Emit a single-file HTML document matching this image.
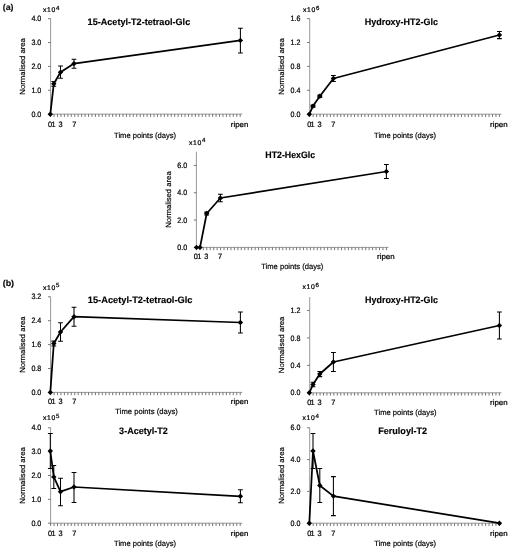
<!DOCTYPE html>
<html><head><meta charset="utf-8"><title>Figure</title>
<style>
html,body{margin:0;padding:0;background:#fff;}
svg{display:block;font-family:"Liberation Sans", Arial, sans-serif;}
text{stroke:#000;stroke-width:0.22px;}
text.b{stroke-width:0.15px;}
text.t{stroke-width:0.18px;}
</style></head>
<body>
<svg width="510" height="550" viewBox="0 0 510 550" fill="#000" text-rendering="geometricPrecision">
<rect width="510" height="550" fill="#fff"/>
<text x="2.7" y="10" font-size="8.6" class="b" font-weight="bold" fill="#111" textLength="10.8" lengthAdjust="spacingAndGlyphs">(a)</text>
<text x="2.7" y="285.9" font-size="8.6" class="b" font-weight="bold" fill="#000" textLength="11.4" lengthAdjust="spacingAndGlyphs">(b)</text>
<path d="M50.6 18.7V114.1H242.3" fill="none" stroke="#7d7d7d" stroke-width="0.8"/>
<text x="41.3" y="116.7" text-anchor="end" font-size="7.8" textLength="9.9" lengthAdjust="spacingAndGlyphs">0.0</text>
<text x="41.3" y="92.85" text-anchor="end" font-size="7.8" textLength="9.9" lengthAdjust="spacingAndGlyphs">1.0</text>
<text x="41.3" y="69" text-anchor="end" font-size="7.8" textLength="9.9" lengthAdjust="spacingAndGlyphs">2.0</text>
<text x="41.3" y="45.15" text-anchor="end" font-size="7.8" textLength="9.9" lengthAdjust="spacingAndGlyphs">3.0</text>
<text x="41.3" y="21.3" text-anchor="end" font-size="7.8" textLength="9.9" lengthAdjust="spacingAndGlyphs">4.0</text>
<path d="M48 114.1H50.6M48 90.25H50.6M48 66.4H50.6M48 42.55H50.6M48 18.7H50.6M50.6 114.1V116.9M54.05 114.1V116.9M57.49 114.1V116.9M60.94 114.1V116.9M64.39 114.1V116.9M67.84 114.1V116.9M71.28 114.1V116.9M74.73 114.1V116.9M78.18 114.1V116.9M81.63 114.1V116.9M85.07 114.1V116.9M88.52 114.1V116.9M91.97 114.1V116.9M95.41 114.1V116.9M98.86 114.1V116.9M102.31 114.1V116.9M105.76 114.1V116.9M109.2 114.1V116.9M112.65 114.1V116.9M116.1 114.1V116.9M119.55 114.1V116.9M122.99 114.1V116.9M126.44 114.1V116.9M129.89 114.1V116.9M133.33 114.1V116.9M136.78 114.1V116.9M140.23 114.1V116.9M143.68 114.1V116.9M147.12 114.1V116.9M150.57 114.1V116.9M154.02 114.1V116.9M157.47 114.1V116.9M160.91 114.1V116.9M164.36 114.1V116.9M167.81 114.1V116.9M171.25 114.1V116.9M174.7 114.1V116.9M178.15 114.1V116.9M181.6 114.1V116.9M185.04 114.1V116.9M188.49 114.1V116.9M191.94 114.1V116.9M195.39 114.1V116.9M198.83 114.1V116.9M202.28 114.1V116.9M205.73 114.1V116.9M209.17 114.1V116.9M212.62 114.1V116.9M216.07 114.1V116.9M219.52 114.1V116.9M222.96 114.1V116.9M226.41 114.1V116.9M229.86 114.1V116.9M233.31 114.1V116.9M236.75 114.1V116.9M240.2 114.1V116.9" fill="none" stroke="#666" stroke-width="0.9"/>
<text x="50.1" y="126.5" text-anchor="middle" font-size="7.8" textLength="4.1" lengthAdjust="spacingAndGlyphs">0</text>
<text x="53.55" y="126.5" text-anchor="middle" font-size="7.8" textLength="4.1" lengthAdjust="spacingAndGlyphs">1</text>
<text x="60.44" y="126.5" text-anchor="middle" font-size="7.8" textLength="4.1" lengthAdjust="spacingAndGlyphs">3</text>
<text x="74.23" y="126.5" text-anchor="middle" font-size="7.8" textLength="4.1" lengthAdjust="spacingAndGlyphs">7</text>
<text x="239.6" y="126.5" text-anchor="middle" font-size="7.5" textLength="17.6" lengthAdjust="spacingAndGlyphs">ripen</text>
<text x="145.1" y="137.6" class="t" text-anchor="middle" font-size="7.7" textLength="62" lengthAdjust="spacingAndGlyphs">Time points (days)</text>
<text transform="translate(24.8 66.4) rotate(-90)" class="t" text-anchor="middle" font-size="7.5" textLength="56.5" lengthAdjust="spacingAndGlyphs">Normalised area</text>
<text x="43" y="12.3" font-size="6.8" textLength="12.3" lengthAdjust="spacing">x10</text>
<text x="56.1" y="10" font-size="6" textLength="3.4" lengthAdjust="spacingAndGlyphs">4</text>
<text x="87.6" y="24.7" font-size="9.4" class="b" font-weight="bold" fill="#000" textLength="102.6" lengthAdjust="spacingAndGlyphs">15-Acetyl-T2-tetraol-Glc</text>
<path d="M53.8 81.5V86.2M51.4 81.5h4.8M51.4 86.2h4.8M60.5 66V78.2M58.1 66h4.8M58.1 78.2h4.8M74 59.2V68.2M71.6 59.2h4.8M71.6 68.2h4.8M240.4 28.2V53M238 28.2h4.8M238 53h4.8" fill="none" stroke="#000" stroke-width="1.05"/>
<polyline points="50.3,114.2 53.8,83.7 60.5,72.2 74,63.6 240.4,40.4" fill="none" stroke="#000" stroke-width="1.75" stroke-linejoin="round" stroke-linecap="round"/>
<path d="M47.6 114.2L50.3 111.5L53 114.2L50.3 116.9ZM51.1 83.7L53.8 81L56.5 83.7L53.8 86.4ZM57.8 72.2L60.5 69.5L63.2 72.2L60.5 74.9ZM71.3 63.6L74 60.9L76.7 63.6L74 66.3ZM237.7 40.4L240.4 37.7L243.1 40.4L240.4 43.1Z" fill="#000"/>
<path d="M309.7 18.6V114.2H501.5" fill="none" stroke="#7d7d7d" stroke-width="0.8"/>
<text x="300.4" y="116.8" text-anchor="end" font-size="7.8" textLength="9.9" lengthAdjust="spacingAndGlyphs">0.0</text>
<text x="300.4" y="92.9" text-anchor="end" font-size="7.8" textLength="9.9" lengthAdjust="spacingAndGlyphs">0.4</text>
<text x="300.4" y="69" text-anchor="end" font-size="7.8" textLength="9.9" lengthAdjust="spacingAndGlyphs">0.8</text>
<text x="300.4" y="45.1" text-anchor="end" font-size="7.8" textLength="9.9" lengthAdjust="spacingAndGlyphs">1.2</text>
<text x="300.4" y="21.2" text-anchor="end" font-size="7.8" textLength="9.9" lengthAdjust="spacingAndGlyphs">1.6</text>
<path d="M307.1 114.2H309.7M307.1 90.3H309.7M307.1 66.4H309.7M307.1 42.5H309.7M307.1 18.6H309.7M309.7 114.2V117M313.15 114.2V117M316.6 114.2V117M320.05 114.2V117M323.5 114.2V117M326.95 114.2V117M330.39 114.2V117M333.84 114.2V117M337.29 114.2V117M340.74 114.2V117M344.19 114.2V117M347.64 114.2V117M351.09 114.2V117M354.54 114.2V117M357.99 114.2V117M361.44 114.2V117M364.89 114.2V117M368.33 114.2V117M371.78 114.2V117M375.23 114.2V117M378.68 114.2V117M382.13 114.2V117M385.58 114.2V117M389.03 114.2V117M392.48 114.2V117M395.93 114.2V117M399.38 114.2V117M402.83 114.2V117M406.27 114.2V117M409.72 114.2V117M413.17 114.2V117M416.62 114.2V117M420.07 114.2V117M423.52 114.2V117M426.97 114.2V117M430.42 114.2V117M433.87 114.2V117M437.32 114.2V117M440.77 114.2V117M444.21 114.2V117M447.66 114.2V117M451.11 114.2V117M454.56 114.2V117M458.01 114.2V117M461.46 114.2V117M464.91 114.2V117M468.36 114.2V117M471.81 114.2V117M475.26 114.2V117M478.71 114.2V117M482.15 114.2V117M485.6 114.2V117M489.05 114.2V117M492.5 114.2V117M495.95 114.2V117M499.4 114.2V117" fill="none" stroke="#666" stroke-width="0.9"/>
<text x="309.2" y="126.6" text-anchor="middle" font-size="7.8" textLength="4.1" lengthAdjust="spacingAndGlyphs">0</text>
<text x="312.65" y="126.6" text-anchor="middle" font-size="7.8" textLength="4.1" lengthAdjust="spacingAndGlyphs">1</text>
<text x="319.55" y="126.6" text-anchor="middle" font-size="7.8" textLength="4.1" lengthAdjust="spacingAndGlyphs">3</text>
<text x="333.34" y="126.6" text-anchor="middle" font-size="7.8" textLength="4.1" lengthAdjust="spacingAndGlyphs">7</text>
<text x="498.8" y="126.6" text-anchor="middle" font-size="7.5" textLength="17.6" lengthAdjust="spacingAndGlyphs">ripen</text>
<text x="405.1" y="137.6" class="t" text-anchor="middle" font-size="7.7" textLength="62" lengthAdjust="spacingAndGlyphs">Time points (days)</text>
<text transform="translate(283.9 66.4) rotate(-90)" class="t" text-anchor="middle" font-size="7.5" textLength="56.5" lengthAdjust="spacingAndGlyphs">Normalised area</text>
<text x="303" y="12.3" font-size="6.8" textLength="12.3" lengthAdjust="spacing">x10</text>
<text x="316.1" y="10" font-size="6" textLength="3.4" lengthAdjust="spacingAndGlyphs">6</text>
<text x="364.7" y="25" font-size="9.4" class="b" font-weight="bold" fill="#000" textLength="73.3" lengthAdjust="spacingAndGlyphs">Hydroxy-HT2-Glc</text>
<path d="M313 105.1V107.1M310.6 105.1h4.8M310.6 107.1h4.8M319.8 95.1V97.5M317.4 95.1h4.8M317.4 97.5h4.8M333.4 75.5V81.5M331 75.5h4.8M331 81.5h4.8M499.4 31.4V38.6M497 31.4h4.8M497 38.6h4.8" fill="none" stroke="#000" stroke-width="1.05"/>
<polyline points="309.3,114.2 313,106.1 319.8,96.3 333.4,78.5 499.4,35" fill="none" stroke="#000" stroke-width="1.75" stroke-linejoin="round" stroke-linecap="round"/>
<path d="M306.6 114.2L309.3 111.5L312 114.2L309.3 116.9ZM310.3 106.1L313 103.4L315.7 106.1L313 108.8ZM317.1 96.3L319.8 93.6L322.5 96.3L319.8 99ZM330.7 78.5L333.4 75.8L336.1 78.5L333.4 81.2ZM496.7 35L499.4 32.3L502.1 35L499.4 37.7Z" fill="#000"/>
<path d="M196.4 151.75V247.4H388.5" fill="none" stroke="#7d7d7d" stroke-width="0.8"/>
<text x="187.1" y="250" text-anchor="end" font-size="7.8" textLength="9.9" lengthAdjust="spacingAndGlyphs">0.0</text>
<text x="187.1" y="222.67" text-anchor="end" font-size="7.8" textLength="9.9" lengthAdjust="spacingAndGlyphs">2.0</text>
<text x="187.1" y="195.34" text-anchor="end" font-size="7.8" textLength="9.9" lengthAdjust="spacingAndGlyphs">4.0</text>
<text x="187.1" y="168.01" text-anchor="end" font-size="7.8" textLength="9.9" lengthAdjust="spacingAndGlyphs">6.0</text>
<path d="M193.8 247.4H196.4M193.8 220.07H196.4M193.8 192.74H196.4M193.8 165.41H196.4M196.4 247.4V250.2M199.85 247.4V250.2M203.31 247.4V250.2M206.76 247.4V250.2M210.22 247.4V250.2M213.67 247.4V250.2M217.13 247.4V250.2M220.58 247.4V250.2M224.04 247.4V250.2M227.49 247.4V250.2M230.95 247.4V250.2M234.4 247.4V250.2M237.85 247.4V250.2M241.31 247.4V250.2M244.76 247.4V250.2M248.22 247.4V250.2M251.67 247.4V250.2M255.13 247.4V250.2M258.58 247.4V250.2M262.04 247.4V250.2M265.49 247.4V250.2M268.95 247.4V250.2M272.4 247.4V250.2M275.85 247.4V250.2M279.31 247.4V250.2M282.76 247.4V250.2M286.22 247.4V250.2M289.67 247.4V250.2M293.13 247.4V250.2M296.58 247.4V250.2M300.04 247.4V250.2M303.49 247.4V250.2M306.95 247.4V250.2M310.4 247.4V250.2M313.85 247.4V250.2M317.31 247.4V250.2M320.76 247.4V250.2M324.22 247.4V250.2M327.67 247.4V250.2M331.13 247.4V250.2M334.58 247.4V250.2M338.04 247.4V250.2M341.49 247.4V250.2M344.95 247.4V250.2M348.4 247.4V250.2M351.85 247.4V250.2M355.31 247.4V250.2M358.76 247.4V250.2M362.22 247.4V250.2M365.67 247.4V250.2M369.13 247.4V250.2M372.58 247.4V250.2M376.04 247.4V250.2M379.49 247.4V250.2M382.95 247.4V250.2M386.4 247.4V250.2" fill="none" stroke="#666" stroke-width="0.9"/>
<text x="195.9" y="259.3" text-anchor="middle" font-size="7.8" textLength="4.1" lengthAdjust="spacingAndGlyphs">0</text>
<text x="199.35" y="259.3" text-anchor="middle" font-size="7.8" textLength="4.1" lengthAdjust="spacingAndGlyphs">1</text>
<text x="206.26" y="259.3" text-anchor="middle" font-size="7.8" textLength="4.1" lengthAdjust="spacingAndGlyphs">3</text>
<text x="220.08" y="259.3" text-anchor="middle" font-size="7.8" textLength="4.1" lengthAdjust="spacingAndGlyphs">7</text>
<text x="385.8" y="259.3" text-anchor="middle" font-size="7.5" textLength="17.6" lengthAdjust="spacingAndGlyphs">ripen</text>
<text x="292.3" y="269.1" class="t" text-anchor="middle" font-size="7.7" textLength="62.1" lengthAdjust="spacingAndGlyphs">Time points (days)</text>
<text transform="translate(170.6 199.57) rotate(-90)" class="t" text-anchor="middle" font-size="7.5" textLength="56.5" lengthAdjust="spacingAndGlyphs">Normalised area</text>
<text x="189" y="144.5" font-size="6.8" textLength="12.3" lengthAdjust="spacing">x10</text>
<text x="202.1" y="142.2" font-size="6" textLength="3.4" lengthAdjust="spacingAndGlyphs">4</text>
<text x="265.3" y="158" font-size="9.4" class="b" font-weight="bold" fill="#000" textLength="49.9" lengthAdjust="spacingAndGlyphs">HT2-HexGlc</text>
<path d="M206.7 212.1V214.9M204.3 212.1h4.8M204.3 214.9h4.8M220.4 194.2V201.8M218 194.2h4.8M218 201.8h4.8M386.4 164.5V178.5M384 164.5h4.8M384 178.5h4.8" fill="none" stroke="#000" stroke-width="1.05"/>
<polyline points="196.5,247.4 200,247.4 206.7,213.5 220.4,198 386.4,171.5" fill="none" stroke="#000" stroke-width="1.75" stroke-linejoin="round" stroke-linecap="round"/>
<path d="M193.8 247.4L196.5 244.7L199.2 247.4L196.5 250.1ZM197.3 247.4L200 244.7L202.7 247.4L200 250.1ZM204 213.5L206.7 210.8L209.4 213.5L206.7 216.2ZM217.7 198L220.4 195.3L223.1 198L220.4 200.7ZM383.7 171.5L386.4 168.8L389.1 171.5L386.4 174.2Z" fill="#000"/>
<path d="M50.6 296.8V392.4H242.3" fill="none" stroke="#7d7d7d" stroke-width="0.8"/>
<text x="41.3" y="395" text-anchor="end" font-size="7.8" textLength="9.9" lengthAdjust="spacingAndGlyphs">0.0</text>
<text x="41.3" y="371.1" text-anchor="end" font-size="7.8" textLength="9.9" lengthAdjust="spacingAndGlyphs">0.8</text>
<text x="41.3" y="347.2" text-anchor="end" font-size="7.8" textLength="9.9" lengthAdjust="spacingAndGlyphs">1.6</text>
<text x="41.3" y="323.3" text-anchor="end" font-size="7.8" textLength="9.9" lengthAdjust="spacingAndGlyphs">2.4</text>
<text x="41.3" y="299.4" text-anchor="end" font-size="7.8" textLength="9.9" lengthAdjust="spacingAndGlyphs">3.2</text>
<path d="M48 392.4H50.6M48 368.5H50.6M48 344.6H50.6M48 320.7H50.6M48 296.8H50.6M50.6 392.4V395.2M54.05 392.4V395.2M57.49 392.4V395.2M60.94 392.4V395.2M64.39 392.4V395.2M67.84 392.4V395.2M71.28 392.4V395.2M74.73 392.4V395.2M78.18 392.4V395.2M81.63 392.4V395.2M85.07 392.4V395.2M88.52 392.4V395.2M91.97 392.4V395.2M95.41 392.4V395.2M98.86 392.4V395.2M102.31 392.4V395.2M105.76 392.4V395.2M109.2 392.4V395.2M112.65 392.4V395.2M116.1 392.4V395.2M119.55 392.4V395.2M122.99 392.4V395.2M126.44 392.4V395.2M129.89 392.4V395.2M133.33 392.4V395.2M136.78 392.4V395.2M140.23 392.4V395.2M143.68 392.4V395.2M147.12 392.4V395.2M150.57 392.4V395.2M154.02 392.4V395.2M157.47 392.4V395.2M160.91 392.4V395.2M164.36 392.4V395.2M167.81 392.4V395.2M171.25 392.4V395.2M174.7 392.4V395.2M178.15 392.4V395.2M181.6 392.4V395.2M185.04 392.4V395.2M188.49 392.4V395.2M191.94 392.4V395.2M195.39 392.4V395.2M198.83 392.4V395.2M202.28 392.4V395.2M205.73 392.4V395.2M209.17 392.4V395.2M212.62 392.4V395.2M216.07 392.4V395.2M219.52 392.4V395.2M222.96 392.4V395.2M226.41 392.4V395.2M229.86 392.4V395.2M233.31 392.4V395.2M236.75 392.4V395.2M240.2 392.4V395.2" fill="none" stroke="#666" stroke-width="0.9"/>
<text x="50.1" y="404.2" text-anchor="middle" font-size="7.8" textLength="4.1" lengthAdjust="spacingAndGlyphs">0</text>
<text x="53.55" y="404.2" text-anchor="middle" font-size="7.8" textLength="4.1" lengthAdjust="spacingAndGlyphs">1</text>
<text x="60.44" y="404.2" text-anchor="middle" font-size="7.8" textLength="4.1" lengthAdjust="spacingAndGlyphs">3</text>
<text x="74.23" y="404.2" text-anchor="middle" font-size="7.8" textLength="4.1" lengthAdjust="spacingAndGlyphs">7</text>
<text x="239.6" y="404.2" text-anchor="middle" font-size="7.5" textLength="17.6" lengthAdjust="spacingAndGlyphs">ripen</text>
<text x="146.6" y="414" class="t" text-anchor="middle" font-size="7.7" textLength="62.5" lengthAdjust="spacingAndGlyphs">Time points (days)</text>
<text transform="translate(24.8 344.6) rotate(-90)" class="t" text-anchor="middle" font-size="7.5" textLength="56.5" lengthAdjust="spacingAndGlyphs">Normalised area</text>
<text x="43" y="289.5" font-size="6.8" textLength="12.3" lengthAdjust="spacing">x10</text>
<text x="56.1" y="287.2" font-size="6" textLength="3.4" lengthAdjust="spacingAndGlyphs">5</text>
<text x="87.8" y="303.1" font-size="9.4" class="b" font-weight="bold" fill="#000" textLength="104.7" lengthAdjust="spacingAndGlyphs">15-Acetyl-T2-tetraol-Glc</text>
<path d="M53.8 341.1V345.9M51.4 341.1h4.8M51.4 345.9h4.8M60.5 322.8V341.2M58.1 322.8h4.8M58.1 341.2h4.8M74 307.2V326.2M71.6 307.2h4.8M71.6 326.2h4.8M240.4 312V333M238 312h4.8M238 333h4.8" fill="none" stroke="#000" stroke-width="1.05"/>
<polyline points="50.3,392.4 53.8,343.5 60.5,332 74,316.7 240.4,322.5" fill="none" stroke="#000" stroke-width="1.75" stroke-linejoin="round" stroke-linecap="round"/>
<path d="M47.6 392.4L50.3 389.7L53 392.4L50.3 395.1ZM51.1 343.5L53.8 340.8L56.5 343.5L53.8 346.2ZM57.8 332L60.5 329.3L63.2 332L60.5 334.7ZM71.3 316.7L74 314L76.7 316.7L74 319.4ZM237.7 322.5L240.4 319.8L243.1 322.5L240.4 325.2Z" fill="#000"/>
<path d="M309.7 297V392.8H501.5" fill="none" stroke="#7d7d7d" stroke-width="0.8"/>
<text x="300.4" y="395.4" text-anchor="end" font-size="7.8" textLength="9.9" lengthAdjust="spacingAndGlyphs">0.0</text>
<text x="300.4" y="367.95" text-anchor="end" font-size="7.8" textLength="9.9" lengthAdjust="spacingAndGlyphs">0.4</text>
<text x="300.4" y="340.5" text-anchor="end" font-size="7.8" textLength="9.9" lengthAdjust="spacingAndGlyphs">0.8</text>
<text x="300.4" y="313.05" text-anchor="end" font-size="7.8" textLength="9.9" lengthAdjust="spacingAndGlyphs">1.2</text>
<path d="M307.1 392.8H309.7M307.1 365.35H309.7M307.1 337.9H309.7M307.1 310.45H309.7M309.7 392.8V395.6M313.15 392.8V395.6M316.6 392.8V395.6M320.05 392.8V395.6M323.5 392.8V395.6M326.95 392.8V395.6M330.39 392.8V395.6M333.84 392.8V395.6M337.29 392.8V395.6M340.74 392.8V395.6M344.19 392.8V395.6M347.64 392.8V395.6M351.09 392.8V395.6M354.54 392.8V395.6M357.99 392.8V395.6M361.44 392.8V395.6M364.89 392.8V395.6M368.33 392.8V395.6M371.78 392.8V395.6M375.23 392.8V395.6M378.68 392.8V395.6M382.13 392.8V395.6M385.58 392.8V395.6M389.03 392.8V395.6M392.48 392.8V395.6M395.93 392.8V395.6M399.38 392.8V395.6M402.83 392.8V395.6M406.27 392.8V395.6M409.72 392.8V395.6M413.17 392.8V395.6M416.62 392.8V395.6M420.07 392.8V395.6M423.52 392.8V395.6M426.97 392.8V395.6M430.42 392.8V395.6M433.87 392.8V395.6M437.32 392.8V395.6M440.77 392.8V395.6M444.21 392.8V395.6M447.66 392.8V395.6M451.11 392.8V395.6M454.56 392.8V395.6M458.01 392.8V395.6M461.46 392.8V395.6M464.91 392.8V395.6M468.36 392.8V395.6M471.81 392.8V395.6M475.26 392.8V395.6M478.71 392.8V395.6M482.15 392.8V395.6M485.6 392.8V395.6M489.05 392.8V395.6M492.5 392.8V395.6M495.95 392.8V395.6M499.4 392.8V395.6" fill="none" stroke="#666" stroke-width="0.9"/>
<text x="309.2" y="404.6" text-anchor="middle" font-size="7.8" textLength="4.1" lengthAdjust="spacingAndGlyphs">0</text>
<text x="312.65" y="404.6" text-anchor="middle" font-size="7.8" textLength="4.1" lengthAdjust="spacingAndGlyphs">1</text>
<text x="319.55" y="404.6" text-anchor="middle" font-size="7.8" textLength="4.1" lengthAdjust="spacingAndGlyphs">3</text>
<text x="333.34" y="404.6" text-anchor="middle" font-size="7.8" textLength="4.1" lengthAdjust="spacingAndGlyphs">7</text>
<text x="498.8" y="404.6" text-anchor="middle" font-size="7.5" textLength="17.6" lengthAdjust="spacingAndGlyphs">ripen</text>
<text x="405.3" y="414.6" class="t" text-anchor="middle" font-size="7.7" textLength="62.4" lengthAdjust="spacingAndGlyphs">Time points (days)</text>
<text transform="translate(283.9 344.9) rotate(-90)" class="t" text-anchor="middle" font-size="7.5" textLength="56.5" lengthAdjust="spacingAndGlyphs">Normalised area</text>
<text x="302.5" y="289" font-size="6.8" textLength="12.3" lengthAdjust="spacing">x10</text>
<text x="315.6" y="286.7" font-size="6" textLength="3.4" lengthAdjust="spacingAndGlyphs">6</text>
<text x="365.1" y="303.2" font-size="9.4" class="b" font-weight="bold" fill="#000" textLength="72.8" lengthAdjust="spacingAndGlyphs">Hydroxy-HT2-Glc</text>
<path d="M313 382.3V386.7M310.6 382.3h4.8M310.6 386.7h4.8M319.8 371.4V376.6M317.4 371.4h4.8M317.4 376.6h4.8M333.4 352.5V371.5M331 352.5h4.8M331 371.5h4.8M499.4 312V339M497 312h4.8M497 339h4.8" fill="none" stroke="#000" stroke-width="1.05"/>
<polyline points="309.3,392.8 313,384.5 319.8,374 333.4,362 499.4,325.5" fill="none" stroke="#000" stroke-width="1.75" stroke-linejoin="round" stroke-linecap="round"/>
<path d="M306.6 392.8L309.3 390.1L312 392.8L309.3 395.5ZM310.3 384.5L313 381.8L315.7 384.5L313 387.2ZM317.1 374L319.8 371.3L322.5 374L319.8 376.7ZM330.7 362L333.4 359.3L336.1 362L333.4 364.7ZM496.7 325.5L499.4 322.8L502.1 325.5L499.4 328.2Z" fill="#000"/>
<path d="M50.6 427.8V523.2H242.3" fill="none" stroke="#7d7d7d" stroke-width="0.8"/>
<text x="41.3" y="525.8" text-anchor="end" font-size="7.8" textLength="9.9" lengthAdjust="spacingAndGlyphs">0.0</text>
<text x="41.3" y="501.95" text-anchor="end" font-size="7.8" textLength="9.9" lengthAdjust="spacingAndGlyphs">1.0</text>
<text x="41.3" y="478.1" text-anchor="end" font-size="7.8" textLength="9.9" lengthAdjust="spacingAndGlyphs">2.0</text>
<text x="41.3" y="454.25" text-anchor="end" font-size="7.8" textLength="9.9" lengthAdjust="spacingAndGlyphs">3.0</text>
<text x="41.3" y="430.4" text-anchor="end" font-size="7.8" textLength="9.9" lengthAdjust="spacingAndGlyphs">4.0</text>
<path d="M48 523.2H50.6M48 499.35H50.6M48 475.5H50.6M48 451.65H50.6M48 427.8H50.6M50.6 523.2V526M54.05 523.2V526M57.49 523.2V526M60.94 523.2V526M64.39 523.2V526M67.84 523.2V526M71.28 523.2V526M74.73 523.2V526M78.18 523.2V526M81.63 523.2V526M85.07 523.2V526M88.52 523.2V526M91.97 523.2V526M95.41 523.2V526M98.86 523.2V526M102.31 523.2V526M105.76 523.2V526M109.2 523.2V526M112.65 523.2V526M116.1 523.2V526M119.55 523.2V526M122.99 523.2V526M126.44 523.2V526M129.89 523.2V526M133.33 523.2V526M136.78 523.2V526M140.23 523.2V526M143.68 523.2V526M147.12 523.2V526M150.57 523.2V526M154.02 523.2V526M157.47 523.2V526M160.91 523.2V526M164.36 523.2V526M167.81 523.2V526M171.25 523.2V526M174.7 523.2V526M178.15 523.2V526M181.6 523.2V526M185.04 523.2V526M188.49 523.2V526M191.94 523.2V526M195.39 523.2V526M198.83 523.2V526M202.28 523.2V526M205.73 523.2V526M209.17 523.2V526M212.62 523.2V526M216.07 523.2V526M219.52 523.2V526M222.96 523.2V526M226.41 523.2V526M229.86 523.2V526M233.31 523.2V526M236.75 523.2V526M240.2 523.2V526" fill="none" stroke="#666" stroke-width="0.9"/>
<text x="50.1" y="535.6" text-anchor="middle" font-size="7.8" textLength="4.1" lengthAdjust="spacingAndGlyphs">0</text>
<text x="53.55" y="535.6" text-anchor="middle" font-size="7.8" textLength="4.1" lengthAdjust="spacingAndGlyphs">1</text>
<text x="60.44" y="535.6" text-anchor="middle" font-size="7.8" textLength="4.1" lengthAdjust="spacingAndGlyphs">3</text>
<text x="74.23" y="535.6" text-anchor="middle" font-size="7.8" textLength="4.1" lengthAdjust="spacingAndGlyphs">7</text>
<text x="239.6" y="535.6" text-anchor="middle" font-size="7.5" textLength="17.6" lengthAdjust="spacingAndGlyphs">ripen</text>
<text x="145.1" y="545.5" class="t" text-anchor="middle" font-size="7.7" textLength="62" lengthAdjust="spacingAndGlyphs">Time points (days)</text>
<text transform="translate(24.8 475.5) rotate(-90)" class="t" text-anchor="middle" font-size="7.5" textLength="56.5" lengthAdjust="spacingAndGlyphs">Normalised area</text>
<text x="43" y="420.3" font-size="6.8" textLength="12.3" lengthAdjust="spacing">x10</text>
<text x="56.1" y="418" font-size="6" textLength="3.4" lengthAdjust="spacingAndGlyphs">5</text>
<text x="119.1" y="434.1" font-size="9.4" class="b" font-weight="bold" fill="#000" textLength="48.8" lengthAdjust="spacingAndGlyphs">3-Acetyl-T2</text>
<path d="M50.3 433.5V468.5M47.9 433.5h4.8M47.9 468.5h4.8M53.8 465.4V488.4M51.4 465.4h4.8M51.4 488.4h4.8M60.5 478.2V505.7M58.1 478.2h4.8M58.1 505.7h4.8M74 472.5V502.5M71.6 472.5h4.8M71.6 502.5h4.8M240.4 489.8V502.8M238 489.8h4.8M238 502.8h4.8" fill="none" stroke="#000" stroke-width="1.05"/>
<polyline points="50.3,451 53.8,476.9 60.5,491.7 74,487 240.4,496.3" fill="none" stroke="#000" stroke-width="1.75" stroke-linejoin="round" stroke-linecap="round"/>
<path d="M47.6 451L50.3 448.3L53 451L50.3 453.7ZM51.1 476.9L53.8 474.2L56.5 476.9L53.8 479.6ZM57.8 491.7L60.5 489L63.2 491.7L60.5 494.4ZM71.3 487L74 484.3L76.7 487L74 489.7ZM237.7 496.3L240.4 493.6L243.1 496.3L240.4 499Z" fill="#000"/>
<path d="M309.7 427.8V523.2H501.5" fill="none" stroke="#7d7d7d" stroke-width="0.8"/>
<text x="300.4" y="525.8" text-anchor="end" font-size="7.8" textLength="9.9" lengthAdjust="spacingAndGlyphs">0.0</text>
<text x="300.4" y="494" text-anchor="end" font-size="7.8" textLength="9.9" lengthAdjust="spacingAndGlyphs">2.0</text>
<text x="300.4" y="462.2" text-anchor="end" font-size="7.8" textLength="9.9" lengthAdjust="spacingAndGlyphs">4.0</text>
<text x="300.4" y="430.4" text-anchor="end" font-size="7.8" textLength="9.9" lengthAdjust="spacingAndGlyphs">6.0</text>
<path d="M307.1 523.2H309.7M307.1 491.4H309.7M307.1 459.6H309.7M307.1 427.8H309.7M309.7 523.2V526M313.15 523.2V526M316.6 523.2V526M320.05 523.2V526M323.5 523.2V526M326.95 523.2V526M330.39 523.2V526M333.84 523.2V526M337.29 523.2V526M340.74 523.2V526M344.19 523.2V526M347.64 523.2V526M351.09 523.2V526M354.54 523.2V526M357.99 523.2V526M361.44 523.2V526M364.89 523.2V526M368.33 523.2V526M371.78 523.2V526M375.23 523.2V526M378.68 523.2V526M382.13 523.2V526M385.58 523.2V526M389.03 523.2V526M392.48 523.2V526M395.93 523.2V526M399.38 523.2V526M402.83 523.2V526M406.27 523.2V526M409.72 523.2V526M413.17 523.2V526M416.62 523.2V526M420.07 523.2V526M423.52 523.2V526M426.97 523.2V526M430.42 523.2V526M433.87 523.2V526M437.32 523.2V526M440.77 523.2V526M444.21 523.2V526M447.66 523.2V526M451.11 523.2V526M454.56 523.2V526M458.01 523.2V526M461.46 523.2V526M464.91 523.2V526M468.36 523.2V526M471.81 523.2V526M475.26 523.2V526M478.71 523.2V526M482.15 523.2V526M485.6 523.2V526M489.05 523.2V526M492.5 523.2V526M495.95 523.2V526M499.4 523.2V526" fill="none" stroke="#666" stroke-width="0.9"/>
<text x="309.2" y="535.6" text-anchor="middle" font-size="7.8" textLength="4.1" lengthAdjust="spacingAndGlyphs">0</text>
<text x="312.65" y="535.6" text-anchor="middle" font-size="7.8" textLength="4.1" lengthAdjust="spacingAndGlyphs">1</text>
<text x="319.55" y="535.6" text-anchor="middle" font-size="7.8" textLength="4.1" lengthAdjust="spacingAndGlyphs">3</text>
<text x="333.34" y="535.6" text-anchor="middle" font-size="7.8" textLength="4.1" lengthAdjust="spacingAndGlyphs">7</text>
<text x="498.8" y="535.6" text-anchor="middle" font-size="7.5" textLength="17.6" lengthAdjust="spacingAndGlyphs">ripen</text>
<text x="405.2" y="545.5" class="t" text-anchor="middle" font-size="7.7" textLength="61.8" lengthAdjust="spacingAndGlyphs">Time points (days)</text>
<text transform="translate(283.9 475.5) rotate(-90)" class="t" text-anchor="middle" font-size="7.5" textLength="56.5" lengthAdjust="spacingAndGlyphs">Normalised area</text>
<text x="302.5" y="420.3" font-size="6.8" textLength="12.3" lengthAdjust="spacing">x10</text>
<text x="315.6" y="418" font-size="6" textLength="3.4" lengthAdjust="spacingAndGlyphs">4</text>
<text x="378.2" y="434.1" font-size="9.4" class="b" font-weight="bold" fill="#000" textLength="48.9" lengthAdjust="spacingAndGlyphs">Feruloyl-T2</text>
<path d="M313 433.5V468.5M310.6 433.5h4.8M310.6 468.5h4.8M319.8 468.5V502.5M317.4 468.5h4.8M317.4 502.5h4.8M333.4 476.6V515.6M331 476.6h4.8M331 515.6h4.8" fill="none" stroke="#000" stroke-width="1.05"/>
<polyline points="309.3,523.2 313,451 319.8,485.5 333.4,496.1 499.4,523.2" fill="none" stroke="#000" stroke-width="1.75" stroke-linejoin="round" stroke-linecap="round"/>
<path d="M306.6 523.2L309.3 520.5L312 523.2L309.3 525.9ZM310.3 451L313 448.3L315.7 451L313 453.7ZM317.1 485.5L319.8 482.8L322.5 485.5L319.8 488.2ZM330.7 496.1L333.4 493.4L336.1 496.1L333.4 498.8ZM496.7 523.2L499.4 520.5L502.1 523.2L499.4 525.9Z" fill="#000"/>
</svg>
</body></html>
